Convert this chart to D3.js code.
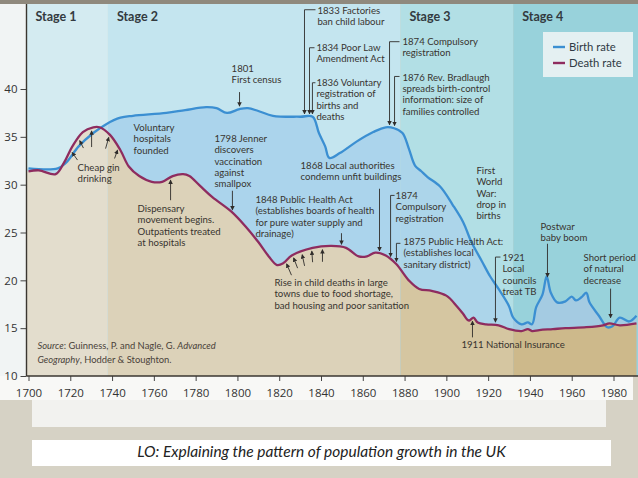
<!DOCTYPE html>
<html>
<head>
<meta charset="utf-8">
<script src="https://cdn.jsdelivr.net/npm/d3@7"></script>
<style>
  html, body { margin: 0; padding: 0; background: #d6d2c5; }
  svg { display: block; font-family: Lato, "Open Sans", sans-serif; }
</style>
</head>
<body>
<svg id="chart" width="638" height="478"></svg>
<script>
// --- data ---
const birthYears = [1700, 1714, 1718, 1724, 1731, 1737, 1744, 1750, 1766, 1775, 1785, 1790, 1795, 1801, 1805, 1810, 1817, 1830, 1836, 1839, 1842, 1844, 1849, 1857, 1865, 1871, 1875, 1879, 1882, 1885, 1888, 1891, 1897, 1903, 1908, 1912, 1917, 1921, 1925, 1930, 1932, 1936, 1939, 1941, 1943, 1946, 1948, 1950, 1953, 1957, 1960, 1962, 1964.5, 1967, 1968.5, 1973, 1977, 1979.5, 1983, 1987.5, 1991];
const birthRates = [31.7, 31.7, 32.3, 34, 35.4, 36.3, 37, 37.2, 37.5, 37.8, 38.1, 38, 37.5, 37.9, 38, 37.7, 37.2, 37.1, 37.1, 35.4, 34, 32.8, 33.3, 34.5, 35.5, 36, 35.9, 35.4, 33.8, 32, 31.4, 30.8, 29.8, 27.9, 26.1, 24, 22, 20.4, 19.1, 17.3, 16.1, 15.4, 15.6, 15.4, 17.2, 18.5, 20.4, 18.7, 17.7, 17.8, 18.3, 17.9, 18.2, 18.7, 17.7, 16.3, 15.1, 15.2, 16.1, 15.7, 16.3];

const deathYears = [1700, 1705, 1713, 1717, 1721, 1726, 1731, 1734, 1739, 1744, 1748, 1753, 1759, 1764, 1769, 1774, 1777, 1782, 1788, 1797, 1804, 1810, 1815, 1819, 1822, 1826, 1836, 1845, 1852, 1858, 1862, 1866, 1871, 1876, 1882, 1887, 1893, 1900, 1905, 1908, 1910, 1911, 1913, 1915, 1919, 1925, 1930, 1936, 1939, 1941, 1944.5, 1951, 1957, 1967, 1975, 1978, 1983, 1991];
const deathRates = [31.4, 31.5, 31.1, 32.3, 34, 35.5, 36, 36, 35.2, 33.6, 31.9, 30.9, 30.3, 30.3, 30.9, 31.1, 30.9, 29.9, 28.7, 27.2, 25.6, 24, 22.5, 21.6, 21.8, 22.6, 23.4, 23.6, 23.4, 22.5, 22.5, 22.9, 22.6, 21.7, 20, 19.1, 18.9, 18.4, 17.3, 16.5, 15.9, 15.8, 16.1, 15.6, 15.4, 15.3, 14.9, 14.7, 14.9, 14.7, 14.8, 14.9, 15.0, 15.1, 15.3, 15.5, 15.3, 15.5];

const xTicks = [1700, 1720, 1740, 1760, 1780, 1800, 1820, 1840, 1860, 1880, 1900, 1920, 1940, 1960, 1980];
const yTicks = [10, 15, 20, 25, 30, 35, 40];

const stageNames = ["Stage 1", "Stage 2", "Stage 3", "Stage 4"];
const stageStarts = [1698.8, 1738, 1878, 1932];

const legendLabels = ["Birth rate", "Death rate"];

// text notes: anchor year / rate of the first line
const notes = [
  { year: 1723.5, rate: 31.48, lines: ["Cheap gin", "drinking"] },
  { year: 1750.3, rate: 35.61, lines: ["Voluntary", "hospitals", "founded"] },
  { year: 1797.2, rate: 41.78, lines: ["1801", "First census"] },
  { year: 1789.0, rate: 34.46, lines: ["1798 Jenner", "discovers", "vaccination", "against", "smallpox"] },
  { year: 1752.2, rate: 27.14, lines: ["Dispensary", "movement begins.", "Outpatients treated", "at hospitals"] },
  { year: 1808.6, rate: 28.08, lines: ["1848 Public Health Act", "(establishes boards of health", "for pure water supply and", "drainage)"] },
  { year: 1830.2, rate: 31.64, lines: ["1868 Local authorities", "condemn unfit buildings"] },
  { year: 1817.7, rate: 19.41, lines: ["Rise in child deaths in large", "towns due to food shortage,", "bad housing and poor sanitation"] },
  { year: 1838.3, rate: 47.84, lines: ["1833 Factories", "ban child labour"] },
  { year: 1837.8, rate: 43.97, lines: ["1834 Poor Law", "Amendment Act"] },
  { year: 1837.8, rate: 40.31, lines: ["1836 Voluntary", "registration of", "births and", "deaths"] },
  { year: 1879.0, rate: 44.60, lines: ["1874 Compulsory", "registration"] },
  { year: 1879.0, rate: 40.85, lines: ["1876 Rev. Bradlaugh", "spreads birth-control", "information: size of", "families controlled"] },
  { year: 1875.7, rate: 28.50, lines: ["1874", "Compulsory", "registration"] },
  { year: 1879.5, rate: 23.69, lines: ["1875 Public Health Act:", "(establishes local", "sanitary district)"] },
  { year: 1914.4, rate: 31.11, lines: ["First", "World", "War:", "drop in", "births"] },
  { year: 1945.1, rate: 25.26, lines: ["Postwar", "baby boom"] },
  { year: 1926.9, rate: 22.02, lines: ["1921", "Local", "councils", "treat TB"] },
  { year: 1965.7, rate: 22.02, lines: ["Short period", "of natural", "decrease"] },
  { year: 1907.2, rate: 12.93, lines: ["1911 National Insurance"] }
];

// arrows pointing at a year on one of the curves
const pointers = [
  { s: "death", year: 1720.1 }, { s: "death", year: 1723.9 }, { s: "death", year: 1730.2 },
  { s: "death", year: 1738.8 }, { s: "death", year: 1743.1 },
  { s: "death", year: 1823.0 }, { s: "death", year: 1826.4 }, { s: "death", year: 1830.7 },
  { s: "death", year: 1835.5 }, { s: "death", year: 1840.7 },
  { s: "birth", year: 1801 }, { s: "death", year: 1797.6 }, { s: "death", year: 1849.8 },
  { s: "death", year: 1868 }, { s: "death", year: 1768 }, { s: "birth", year: 1948.4 },
  { s: "death", year: 1978.6 }, { s: "death", year: 1912.5 },
  { s: "death", year: 1923.5 }, { s: "death", year: 1873.3 }, { s: "death", year: 1876.1 },
  { s: "birth", year: 1832.1 }, { s: "birth", year: 1834.5 }, { s: "birth", year: 1835.9 },
  { s: "birth", year: 1872.8 }, { s: "birth", year: 1875.2 }
];
// layout of each pointer: tail offset (px) from the curve point, gap, bracket tick
const pointerLayout = [
  [7, 10], [5, 10], [0, 19], [-4, 14], [-4, 11],
  [6, 14], [5, 13], [3, 14], [1, 14], [0, 15],
  [0, -17], [0, -22], [0, -14], [0, -65], [0, 23], [0, -36],
  [0, -35, 6], [0, 19],
  [0, -68, 3, 5], [0, -64, 3, 4], [0, -21, 3, 4],
  [0, -107, 3, 11], [0, -69, 3, 5], [0, -34, 3, 3], [0, -86, 3, 10], [0, -52, 3, 5]
];

// --- chart ---
const birth = birthYears.map((d, i) => ({ year: d, v: birthRates[i] }));
const death = deathYears.map((d, i) => ({ year: d, v: deathRates[i] }));

const plot = { left: 26.5, right: 638, top: 4, bottom: 376 };
const x = d3.scaleLinear().domain([1700, 1980]).range([28.5, 613.5]);
const y = d3.scaleLinear().domain([10, 40]).range([376, 89]);

const skyColors = ["#d4ebf1", "#c4e5ef", "#b2dfe5", "#98d2db"];
const midColors = ["#b8dbec", "#abd4ec", "#acd5ea", "#a4cbe2"];
const soilColors = ["#e3ddcd", "#dcd2b9", "#d5c6a1", "#cdb98b"];

const svg = d3.select("#chart");

// paper / slide pieces
svg.append("rect").attr("x", 0).attr("y", 0).attr("width", 638).attr("height", 4).attr("fill", "#8f897d");
svg.append("rect").attr("x", 0).attr("y", plot.top).attr("width", plot.left).attr("height", plot.bottom - plot.top).attr("fill", "#f1f4f4");
svg.append("rect").attr("x", 0).attr("y", plot.bottom).attr("width", 633).attr("height", 24).attr("fill", "#f8f8f6");
svg.append("rect").attr("x", 32).attr("y", 400).attr("width", 574).attr("height", 27).attr("fill", "#f2f2ef");
svg.append("rect").attr("x", 32).attr("y", 440).attr("width", 579).attr("height", 26).attr("fill", "#ffffff");

const curve = d3.curveCatmullRom.alpha(0.5);
const areaOf = d3.area().x(d => x(d.year)).y0(plot.bottom).y1(d => y(d.v)).curve(curve);
const lineOf = d3.line().x(d => x(d.year)).y(d => y(d.v)).curve(curve);

const defs = svg.append("defs");
stageNames.forEach((name, i) => {
  const x0 = i === 0 ? plot.left : x(stageStarts[i]);
  const x1 = i < stageNames.length - 1 ? x(stageStarts[i + 1]) : plot.right;
  defs.append("clipPath").attr("id", "stage" + i)
    .append("rect").attr("x", x0).attr("y", plot.top).attr("width", x1 - x0).attr("height", plot.bottom - plot.top);

  svg.append("rect").attr("x", x0).attr("y", plot.top).attr("width", x1 - x0)
    .attr("height", plot.bottom - plot.top).attr("fill", skyColors[i]);

  const g = svg.append("g").attr("clip-path", `url(#stage${i})`);
  g.append("path").datum([{ year: x.invert(plot.left), v: birth[0].v }, ...birth]).attr("d", areaOf).attr("fill", midColors[i]);
  g.append("path").datum([{ year: x.invert(plot.left), v: death[0].v }, ...death]).attr("d", areaOf).attr("fill", soilColors[i]);

  svg.append("text").attr("x", x0 + 9).attr("y", 21)
    .attr("font-size", 12.5).attr("font-weight", 700).attr("fill", "#333a40")
    .text(name);
});

// axes
const xAxis = svg.append("g").attr("transform", `translate(0,${plot.bottom})`)
  .call(d3.axisBottom(x).tickValues(xTicks).tickSize(5).tickPadding(8).tickFormat(d3.format("d")));
const yAxis = svg.append("g").attr("transform", `translate(${plot.left},0)`)
  .call(d3.axisLeft(y).tickValues(yTicks).tickSize(6).tickPadding(3));
[xAxis, yAxis].forEach(a => {
  a.select(".domain").remove();
  a.selectAll("line").attr("stroke", "#444");
  a.selectAll("text").attr("fill", "#333").attr("font-size", 11.5)
    .attr("font-family", "'Open Sans', sans-serif");
});
svg.append("line").attr("x1", plot.left).attr("x2", plot.right).attr("y1", plot.bottom).attr("y2", plot.bottom)
  .attr("stroke", "#3a3630").attr("stroke-width", 1.6);
svg.append("line").attr("x1", plot.left).attr("x2", plot.left).attr("y1", plot.top).attr("y2", plot.bottom)
  .attr("stroke", "#3a3630").attr("stroke-width", 1.4);

// the two rates
svg.append("path").datum(birth).attr("d", lineOf).attr("fill", "none")
  .attr("stroke", "#3b8fd2").attr("stroke-width", 2.3);
svg.append("path").datum(death).attr("d", lineOf).attr("fill", "none")
  .attr("stroke", "#8e2c5f").attr("stroke-width", 2.3);

// notes
const noteG = svg.append("g").attr("font-size", 9.6).attr("fill", "#38342f");
notes.forEach(n => {
  const t = noteG.append("text").attr("x", x(n.year)).attr("y", y(n.rate));
  n.lines.forEach((l, i) => {
    t.append("tspan").attr("x", x(n.year)).attr("dy", i === 0 ? 0 : 11.3).text(l);
  });
});

// source
const src = noteG.append("text").attr("x", x(1704.3)).attr("y", y(12.82)).attr("font-size", 9.4).attr("fill", "#4a423a");
src.append("tspan").attr("font-style", "italic").text("Source");
src.append("tspan").text(": Guinness, P. and Nagle, G. ");
src.append("tspan").attr("font-style", "italic").text("Advanced");
src.append("tspan").attr("x", x(1704.3)).attr("dy", 14).attr("font-style", "italic").text("Geography");
src.append("tspan").text(", Hodder & Stoughton.");

// pointers
defs.append("marker").attr("id", "tip").attr("viewBox", "0 0 6 6").attr("refX", 5).attr("refY", 3)
  .attr("markerWidth", 4.5).attr("markerHeight", 4.5).attr("markerUnits", "userSpaceOnUse").attr("orient", "auto")
  .append("path").attr("d", "M0,0L6,3L0,6Z").attr("fill", "#2f2c2a");

function rateAt(series, yr) {
  for (let i = 1; i < series.length; i++) {
    if (series[i].year >= yr) {
      const a = series[i - 1], b = series[i];
      return a.v + (b.v - a.v) * (yr - a.year) / (b.year - a.year);
    }
  }
  return series[series.length - 1].v;
}
const pg = svg.append("g").attr("stroke", "#2f2c2a").attr("stroke-width", 0.9).attr("fill", "none");
pointers.forEach((p, i) => {
  const [dx, dy, gap = 3, tick = 0] = pointerLayout[i];
  const cx = x(p.year), cy = y(rateAt(p.s === "birth" ? birth : death, p.year));
  const tx = cx + dx, ty = cy + dy;
  const len = Math.hypot(dx, dy);
  const ex = cx + dx / len * gap, ey = cy + dy / len * gap;
  pg.append("line").attr("x1", tx).attr("y1", ty).attr("x2", ex).attr("y2", ey).attr("marker-end", "url(#tip)");
  if (tick) pg.append("line").attr("x1", tx).attr("y1", ty).attr("x2", tx + tick).attr("y2", ty);
});

// legend
const lg = svg.append("g");
lg.append("rect").attr("x", 543).attr("y", 32).attr("width", 90).attr("height", 45).attr("fill", "#e4f0f2");
legendLabels.forEach((l, i) => {
  lg.append("line").attr("x1", 553).attr("x2", 565).attr("y1", 47 + i * 16).attr("y2", 47 + i * 16)
    .attr("stroke", i === 0 ? "#3b8fd2" : "#8e2c5f").attr("stroke-width", 2.4);
  lg.append("text").attr("x", 569).attr("y", 51 + i * 16).attr("font-size", 11.3).attr("fill", "#2f3a44").text(l);
});

// slide caption
const cap = svg.append("text").attr("x", 321.5).attr("y", 457).attr("text-anchor", "middle")
  .attr("font-size", 14).attr("font-style", "italic").attr("fill", "#222")
  .text("LO: Explaining the pattern of population growth in the UK");
const w = cap.node().getComputedTextLength();
cap.attr("font-size", 14 * 369 / w);
</script>
</body>
</html>
